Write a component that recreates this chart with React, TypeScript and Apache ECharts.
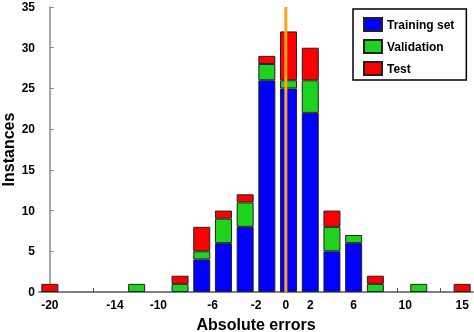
import React, { useEffect, useRef } from "react";
import * as echarts from "echarts";

// 20 equally spaced histogram bins (left to right)
const bins = Array.from({ length: 20 }, (_, i) => `b${i}`);
const trainingSet = [0, 0, 0, 0, 0, 0, 0, 4, 6, 8, 26, 25, 22, 5, 6, 0, 0, 0, 0, 0];
const validation = [0, 0, 0, 0, 1, 0, 1, 1, 3, 3, 2, 1, 4, 3, 1, 1, 0, 1, 0, 0];
const test = [1, 0, 0, 0, 0, 0, 1, 3, 1, 1, 1, 6, 4, 2, 0, 1, 0, 0, 0, 1];

// tick labels of the error axis: [position in bin units, label]
const tickPositions = [0, 3, 5, 7.5, 9.5, 10.875, 12, 14, 16.375, 19];
const tickLabels = ["-20", "-14", "-10", "-6", "-2", "0", "2", "6", "10", "15"];

// zero-error reference line (position in bin units, instance range)
const zeroLineX = [10.875, 10.875];
const zeroLineY = [0, 35];

const yTicks = { min: 0, max: 35, interval: 5 };

const FONT = "'Liberation Sans', Arial, sans-serif";

export default function App() {
  const ref = useRef<HTMLDivElement>(null);
  useEffect(() => {
    if (!ref.current) return;
    const chart = echarts.init(ref.current, null, { renderer: "svg" });
    const nz = (a: number[]) => a.map((v) => (v === 0 ? null : v));
    const barCommon = {
      type: "bar",
      stack: "total",
      xAxisIndex: 0,
      yAxisIndex: 0,
      barWidth: 17,
    };
    chart.setOption({
      animation: false,
      textStyle: { fontFamily: FONT },
      grid: { left: 39, right: 1, top: 7, bottom: 40, containLabel: false, outerBoundsMode: "none" },
      legend: {
        orient: "vertical",
        left: 353,
        top: 9,
        itemWidth: 18,
        itemHeight: 13,
        itemGap: 7,
        padding: [8, 12, 4, 10],
        backgroundColor: "#fff",
        borderColor: "#000",
        borderWidth: 1.5,
        borderRadius: 0,
        data: ["Training set", "Validation", "Test"],
        textStyle: { fontFamily: FONT, fontWeight: "bold", fontSize: 12, color: "#000" },
        icon: "rect",
      },
      xAxis: [
        {
          type: "category",
          data: bins,
          boundaryGap: true,
          position: "bottom",
          axisLine: { show: true, lineStyle: { color: "#555", width: 1.5 } },
          axisTick: { show: true, alignWithLabel: true, inside: true, length: 4, lineStyle: { color: "#555" } },
          axisLabel: { show: false },
          splitLine: { show: false },
          name: "Absolute errors",
          nameLocation: "middle",
          nameGap: 24,
          nameMoveOverlap: false,
          nameTextStyle: { fontFamily: FONT, fontWeight: "bold", fontSize: 16, lineHeight: 16, color: "#000" },
        },
        {
          type: "value",
          min: -0.5,
          max: 19.5,
          interval: 0.125,
          position: "bottom",
          axisLine: { show: false },
          axisTick: { show: false },
          splitLine: { show: false },
          axisLabel: {
            show: true,
            margin: 7,
            fontFamily: FONT,
            fontWeight: "bold",
            fontSize: 12,
            color: "#000",
            formatter: (v: number) => {
              const i = tickPositions.findIndex((p) => Math.abs(p - v) < 1e-6);
              return i >= 0 ? tickLabels[i] : "";
            },
          },
        },
      ],
      yAxis: {
        type: "value",
        min: yTicks.min,
        max: yTicks.max,
        interval: yTicks.interval,
        axisLine: { show: true, lineStyle: { color: "#888", width: 1.5 } },
        axisTick: { show: true, inside: true, length: 4, lineStyle: { color: "#888" } },
        splitLine: { show: false },
        axisLabel: { margin: 4, fontFamily: FONT, fontWeight: "bold", fontSize: 12, color: "#000" },
        name: "Instances",
        nameLocation: "middle",
        nameGap: 23,
        nameMoveOverlap: false,
        nameTextStyle: { fontFamily: FONT, fontWeight: "bold", fontSize: 16, lineHeight: 16, color: "#000" },
      },
      series: [
        {
          ...barCommon,
          name: "Training set",
          data: nz(trainingSet),
          itemStyle: { color: "#0000FF", borderColor: "#222", borderWidth: 1 },
        },
        {
          ...barCommon,
          name: "Validation",
          data: nz(validation),
          itemStyle: { color: "#1ED21E", borderColor: "#222", borderWidth: 1 },
        },
        {
          ...barCommon,
          name: "Test",
          data: nz(test),
          itemStyle: { color: "#FF0000", borderColor: "#222", borderWidth: 1 },
        },
        {
          type: "line",
          name: "zero",
          xAxisIndex: 1,
          yAxisIndex: 0,
          data: zeroLineX.map((x, i) => [x, zeroLineY[i]]),
          symbol: "none",
          z: 10,
          lineStyle: { color: "#FFA01E", width: 3 },
          silent: true,
        },
      ],
    });
    return () => chart.dispose();
  }, []);
  return (
    <div
      ref={ref}
      style={{ position: "fixed", left: 0, top: 0, width: 474, height: 332 }}
    />
  );
}
